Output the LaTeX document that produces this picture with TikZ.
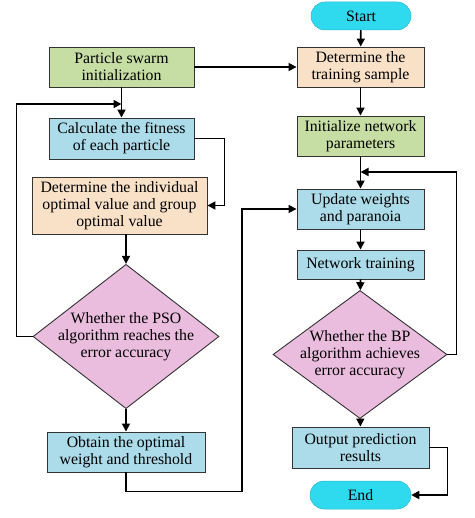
\documentclass[tikz,border=0pt]{standalone}
\usepackage{fontspec}
\setmainfont{Liberation Serif}
\usepackage{tikz}
\usetikzlibrary{positioning}
\usetikzlibrary{shapes.geometric}
\usetikzlibrary{shapes.misc}
\usetikzlibrary{arrows.meta}
\definecolor{InitGreen}{RGB}{198,222,164}
\definecolor{CalcBlue}{RGB}{172,219,234}
\definecolor{SetPeach}{RGB}{249,225,200}
\definecolor{TestPink}{RGB}{234,188,222}
\definecolor{TermCyan}{RGB}{48,218,238}
\tikzset{
  % boxes and decisions of the chart
  flowtext/.style={font=\fontsize{15.8}{17}\selectfont,align=center},
  stepbox/.style={flowtext,draw=black!80,line width=0.9pt,fill=#1,
    inner sep=0pt,minimum width=127pt,minimum height=40pt},
  testbox/.style={flowtext,diamond,draw=black!80,line width=0.9pt,
    fill=TestPink,inner sep=-10pt},
  termbox/.style={flowtext,rounded rectangle,draw=TermCyan!85!black,
    fill=TermCyan,line width=0.5pt,inner sep=0pt,
    minimum width=100pt,minimum height=28pt},
  % connectors with filled heads
  flow/.style={-{Triangle[length=8pt,width=8pt]},line width=1.7pt},
}

\begin{document}
\begin{tikzpicture}[x=1pt,y=-1pt]
  \useasboundingbox (0,0) rectangle (474,518);

  % PSO part
  \node[stepbox=InitGreen,minimum width=145pt] (psi) at (121.5,67)
    {Particle swarm\\initialization};
  \node[stepbox=CalcBlue,minimum width=145pt,minimum height=41pt] (fit) at (121.5,138.5)
    {Calculate the fitness\\of each particle};
  \node[stepbox=SetPeach,minimum width=175pt,minimum height=57pt] (best) at (119.5,205.5)
    {Determine the individual\\optimal value and group\\optimal value};
  \node[testbox,minimum width=186pt,minimum height=119pt] (pso) at (126,336.5)
    {Whether the PSO\\algorithm reaches the\\error accuracy};
  \node[stepbox=CalcBlue,minimum width=158pt] (opt) at (126,452)
    {Obtain the optimal\\weight and threshold};

  % BP part
  \node[termbox] (start) at (361,16) {Start};
  \node[stepbox=SetPeach] (sample) at (360.5,67) {Determine the\\training sample};
  \node[stepbox=InitGreen] (init) at (360.5,136) {Initialize network\\parameters};
  \node[stepbox=CalcBlue] (upd) at (360.5,209) {Update weights\\and paranoia};
  \node[stepbox=CalcBlue,minimum height=29pt] (train) at (360.5,264.5) {Network training};
  \node[testbox,minimum width=174pt,minimum height=99pt] (bp) at (360,354.5)
    {Whether the BP\\algorithm achieves\\error accuracy};
  \node[stepbox=CalcBlue,minimum width=137pt,minimum height=41pt] (out) at (360.5,447.5)
    {Output prediction\\results};
  \node[termbox,minimum width=101pt] (end) at (360.5,495) {End};

  \coordinate (psoback) at (121.5,104);
  \coordinate (bpback) at (360.5,172);

  \draw[flow] (psi) -- (fit);
  \draw[flow] (psi.east) -- (sample.west);
  \draw[flow] (fit.east) -- ++(30,0) |- (best.east);
  \draw[flow] (pso.north |- best.south) -- (pso.north);
  \draw[flow] (pso.west) -- ++(-16,0) |- (psoback);
  \draw[flow] (pso) -- (opt);
  \draw[flow] (opt.south) -- ++(0,19) -- ++(116,0) |- (upd.west);

  \draw[flow] (start) -- (sample);
  \draw[flow] (sample) -- (init);
  \draw[flow] (init) -- (upd);
  \draw[flow] (upd) -- (train);
  \draw[flow] (train) -- (bp);
  \draw[flow] (bp.east) -- ++(9,0) |- (bpback);
  \draw[flow] (bp) -- (out);
  \draw[flow] (out.east) -- ++(18,0) |- (end.east);
\end{tikzpicture}
\end{document}
